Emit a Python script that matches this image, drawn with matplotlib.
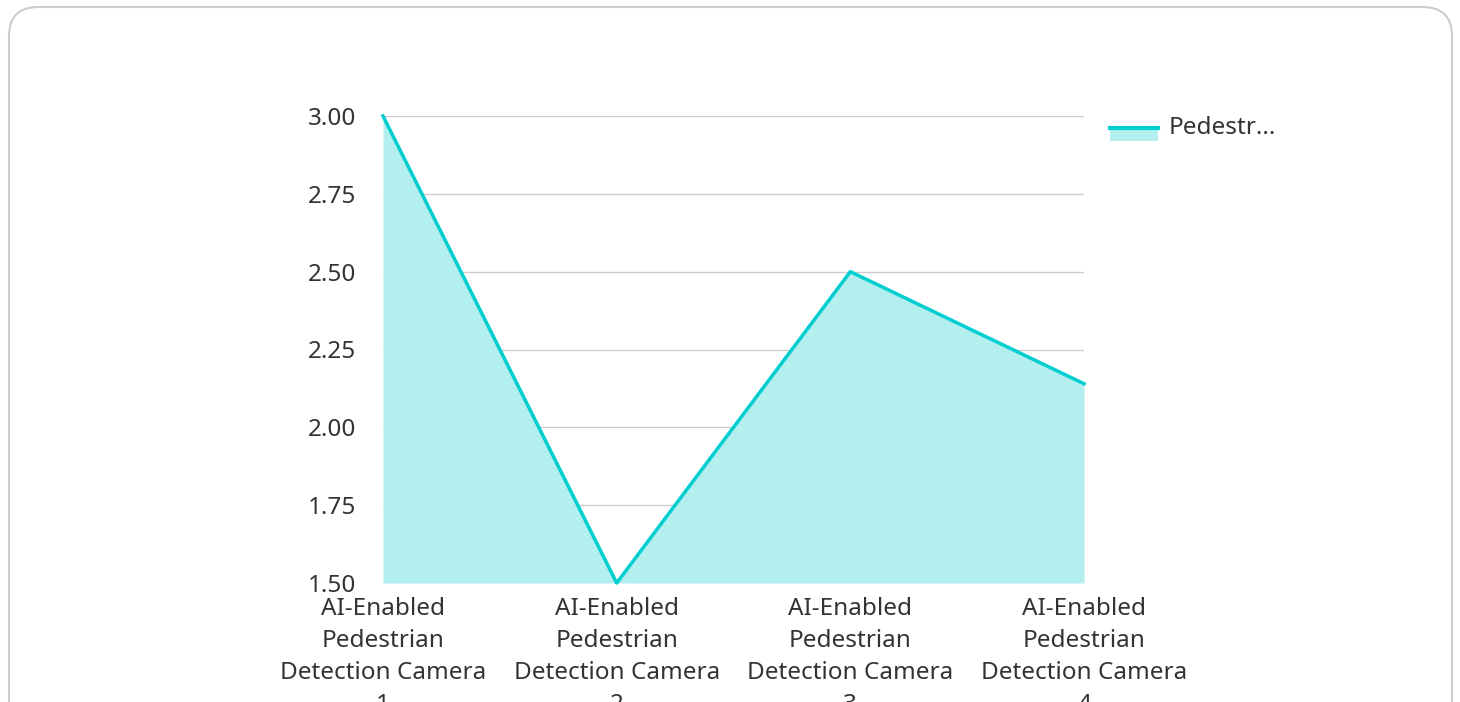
import numpy as np
import matplotlib.pyplot as plt
from matplotlib.patches import FancyBboxPatch, Rectangle
from matplotlib.lines import Line2D

plt.rcParams['font.family'] = ['Noto Sans', 'DejaVu Sans']

# data
cameras = ["AI-Enabled\nPedestrian\nDetection Camera\n1",
           "AI-Enabled\nPedestrian\nDetection Camera\n2",
           "AI-Enabled\nPedestrian\nDetection Camera\n3",
           "AI-Enabled\nPedestrian\nDetection Camera\n4"]
values = [3.0, 1.5, 2.5, 2.14]
series_name = "Pedestr..."
yticks = [1.5, 1.75, 2.0, 2.25, 2.5, 2.75, 3.0]

W, H = 1460, 702
line_col = "#00CED1"
fill_col = "#b2efee"
fs = 17.5

fig = plt.figure(figsize=(W/100, H/100), dpi=100)

# card background
card = FancyBboxPatch((9/W, -0.1), (1452-9)/W, (H-7)/H + 0.1,
                      boxstyle="round,pad=0,rounding_size=0.02",
                      transform=fig.transFigure, facecolor="white",
                      edgecolor="#cccccc", linewidth=1.5, mutation_aspect=W/H,
                      zorder=-5)
fig.add_artist(card)

ax = fig.add_axes([383/W, (H-583)/H, (1084-383)/W, (583-116)/H])
ax.set_facecolor("none")
x = np.arange(len(values))
ax.fill_between(x, values, 1.5, color=fill_col, linewidth=0, zorder=2)
ax.plot(x, values, color=line_col, linewidth=2.5, zorder=3, clip_on=False)

ax.set_xlim(0, len(values) - 1)
ax.set_ylim(1.5, 3.0)
ax.set_yticks(yticks)
ax.set_yticklabels([f"{v:.2f}" for v in yticks])
ax.set_xticks(x)
ax.set_xticklabels(cameras, linespacing=1.45, va="top")
ax.grid(axis="y", color="#cccccc", linewidth=1, zorder=1)
ax.set_axisbelow(True)
for s in ax.spines.values():
    s.set_visible(False)
ax.tick_params(axis="both", length=0, labelsize=fs, labelcolor="#333333")
ax.tick_params(axis="y", pad=19)
ax.tick_params(axis="x", pad=10)

# legend
fig.add_artist(Rectangle((1110/W, (H-141)/H), 48/W, 14/H, transform=fig.transFigure,
                         facecolor=fill_col, edgecolor="none"))
fig.add_artist(Line2D([1110/W, 1158/W], [(H-128)/H, (H-128)/H], transform=fig.transFigure,
                      color=line_col, linewidth=3))
fig.text(1169/W, (H-128)/H, series_name, fontsize=fs, color="#333333", va="center")

fig.savefig("out.png", dpi=100)
